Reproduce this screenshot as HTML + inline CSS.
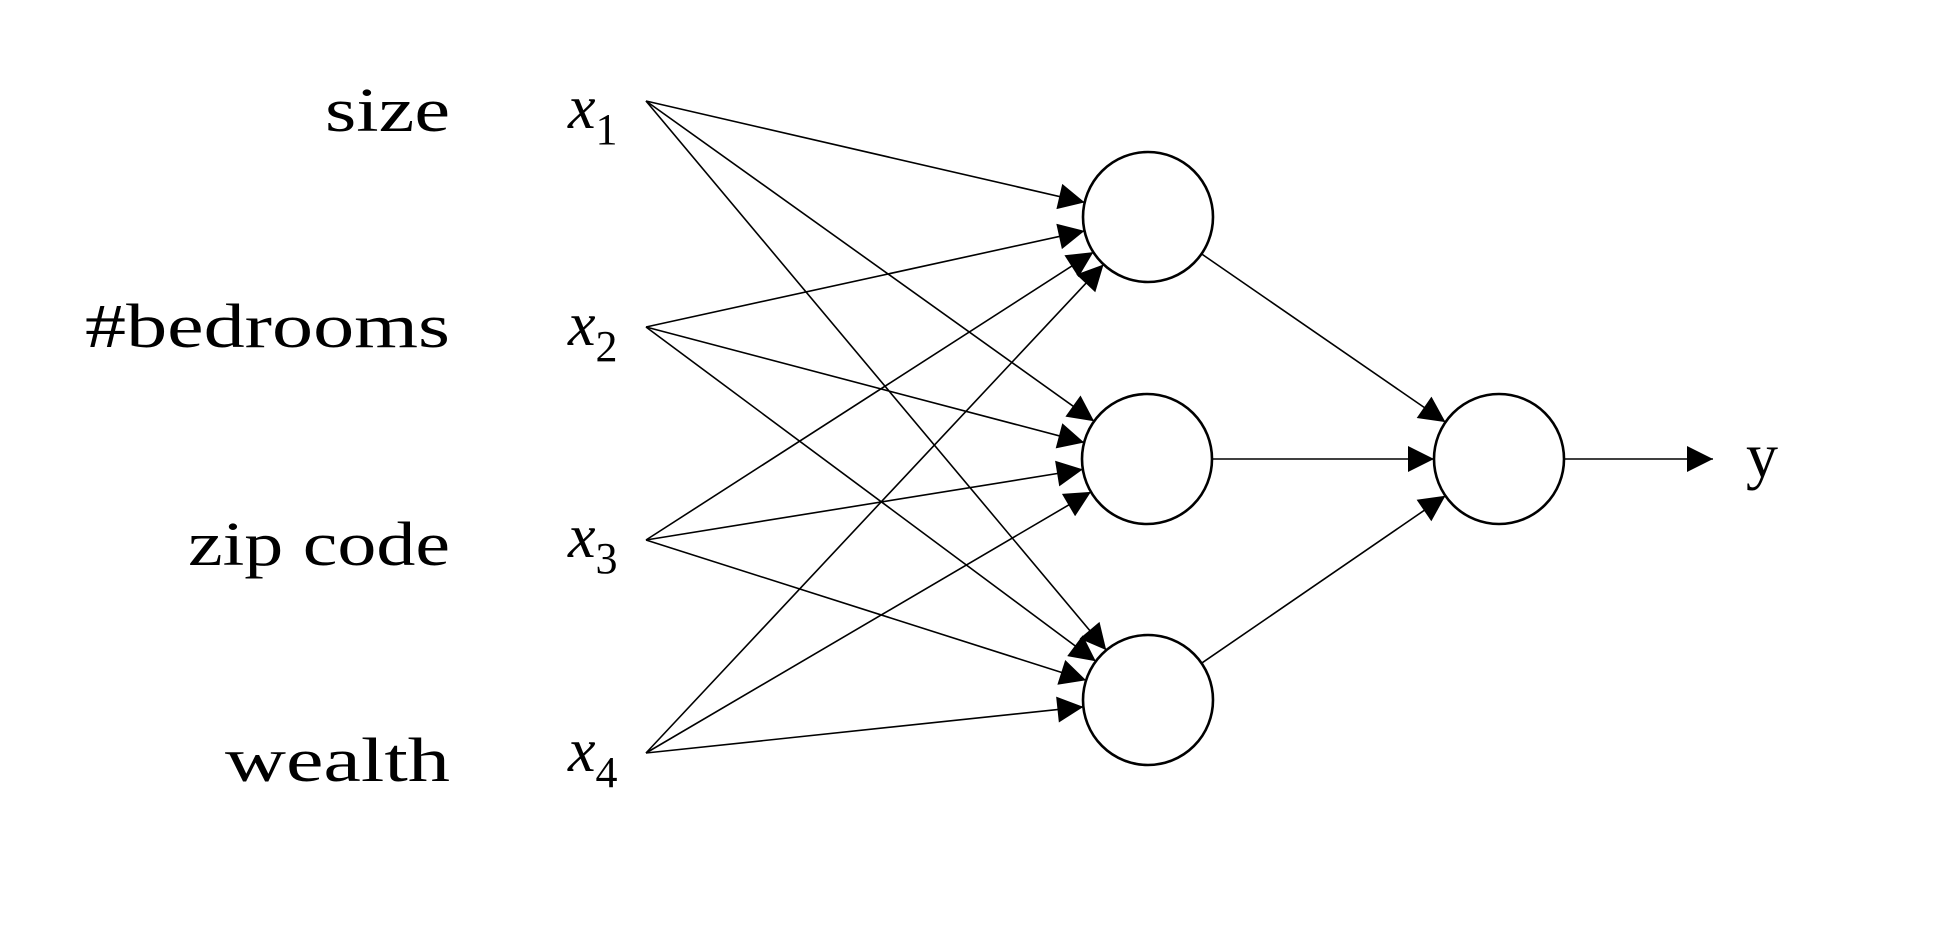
<!DOCTYPE html>
<html><head><meta charset="utf-8"><style>
html,body{margin:0;padding:0;background:#fff;width:1949px;height:949px;overflow:hidden}
svg{display:block}
text{font-family:"Liberation Serif",serif;fill:#000}
</style></head><body>
<svg id="s" width="1949" height="949" viewBox="0 0 1949 949" xmlns="http://www.w3.org/2000/svg">
<defs><marker id="a" viewBox="0 0 10 10" refX="10" refY="5" markerWidth="28" markerHeight="26" markerUnits="userSpaceOnUse" orient="auto"><path d="M0,0 L10,5 L0,10 z" fill="#000"/></marker></defs>
<g font-size="62">
<text x="325" y="131" textLength="125" lengthAdjust="spacingAndGlyphs">size</text>
<text x="85" y="347" textLength="365" lengthAdjust="spacingAndGlyphs">#bedrooms</text>
<text x="188" y="565" textLength="262" lengthAdjust="spacingAndGlyphs">zip code</text>
<text x="225" y="781" textLength="225" lengthAdjust="spacingAndGlyphs">wealth</text>
</g>
<g font-size="62" font-style="italic">
<text x="568" y="128">x<tspan font-style="normal" font-size="44" dy="16">1</tspan></text>
<text x="568" y="345">x<tspan font-style="normal" font-size="44" dy="16">2</tspan></text>
<text x="568" y="557">x<tspan font-style="normal" font-size="44" dy="16">3</tspan></text>
<text x="568" y="771">x<tspan font-style="normal" font-size="44" dy="16">4</tspan></text>
</g>
<text x="1746" y="477" font-size="64">y</text>
<g id="g" stroke="#000" stroke-width="1.6" fill="none"></g>
</svg>
<script>
var g=document.getElementById('g'),ns='http://www.w3.org/2000/svg';
function L(x1,y1,x2,y2,m){var l=document.createElementNS(ns,'line');l.setAttribute('x1',x1);l.setAttribute('y1',y1);l.setAttribute('x2',x2);l.setAttribute('y2',y2);if(m)l.setAttribute('marker-end','url(#a)');g.appendChild(l);}
function C(x,y,r){var c=document.createElementNS(ns,'circle');c.setAttribute('cx',x);c.setAttribute('cy',y);c.setAttribute('r',r);c.setAttribute('stroke-width','2.6');g.appendChild(c);}
var R=65,ins=[101,327,540,753],hid=[[1148,217],[1147,459],[1148,700]],out=[1499,459],X0=646;
ins.forEach(function(y){hid.forEach(function(h){var dx=h[0]-X0,dy=h[1]-y,d=Math.hypot(dx,dy);L(X0,y,h[0]-dx/d*R,h[1]-dy/d*R,1);});});
hid.forEach(function(h){var dx=out[0]-h[0],dy=out[1]-h[1],d=Math.hypot(dx,dy);L(h[0]+dx/d*R,h[1]+dy/d*R,out[0]-dx/d*R,out[1]-dy/d*R,1);});
L(out[0]+R,out[1],1713,out[1],1);
hid.forEach(function(h){C(h[0],h[1],R);});C(out[0],out[1],R);
</script>
</body></html>
